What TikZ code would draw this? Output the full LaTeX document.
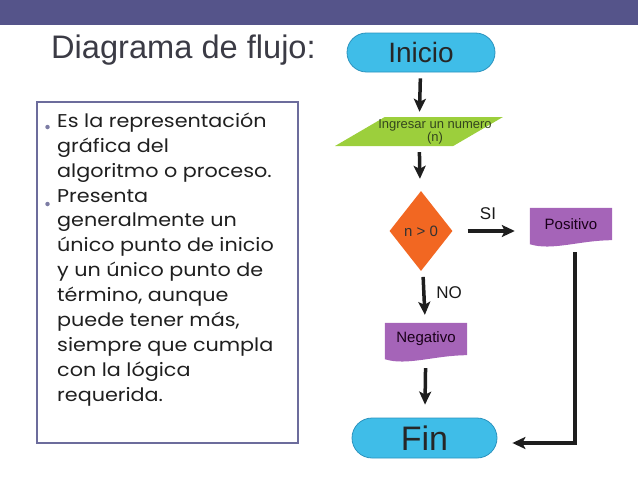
\documentclass[tikz,border=0pt]{standalone}
\usepackage{fontspec}
\setmainfont{Liberation Sans}
\newfontfamily\bodyfont[FakeStretch=1.12]{Poppins}
\usetikzlibrary{shapes.geometric,shapes.misc,arrows.meta,backgrounds}

\definecolor{barblue}{HTML}{55548A}
\definecolor{titlegray}{HTML}{3B3B45}
\definecolor{boxline}{HTML}{6C6C9C}
\definecolor{dotcol}{HTML}{7C7CA4}
\definecolor{termfill}{HTML}{3FBDE8}
\definecolor{termline}{HTML}{2B93BE}
\definecolor{inpfill}{HTML}{9CCF3C}
\definecolor{inptext}{HTML}{34451E}
\definecolor{condfill}{HTML}{F26722}
\definecolor{docfill}{HTML}{A564B8}
\definecolor{arrowcol}{HTML}{1E1E1E}

\tikzset{
  arr/.style={line width=3.5pt, draw=arrowcol, -{Stealth[length=13pt,width=12pt,inset=3pt]}},
  term/.style={rounded rectangle, draw=termline, fill=termfill, line width=0.8pt, text=black!85, inner sep=0pt},
  inpbox/.style={trapezium, trapezium left angle=54, trapezium right angle=126, trapezium stretches=true,
    fill=inpfill, minimum width=168, minimum height=29, inner sep=3pt},
  inptxt/.style={align=center, inner sep=0pt, text=inptext, font=\fontsize{13}{11.5}\selectfont},
  condbox/.style={diamond, fill=condfill, minimum width=63, minimum height=80, inner sep=0pt,
    text=black!80, font=\fontsize{15}{15}\selectfont},
  docbox/.style={rectangle, minimum width=82, minimum height=32, inner sep=0pt},
  doctext/.style={text=black!80!violet, font=\fontsize{15}{15}\selectfont},
  lbl/.style={text=black!90, font=\fontsize{17}{17}\selectfont},
  bodytext/.style={align=left, inner sep=0pt, text=black!88, font=\bodyfont\fontsize{18.5}{24.9}\selectfont},
  dot/.style={circle, fill=dotcol, inner sep=0pt, minimum size=4.5pt}
}

\newcommand\docshape[1]{%
  \fill [docfill] (#1.north west) -- (#1.north east) -- (#1.south east)
    .. controls +(-32,0) and +(22,7) .. ([yshift=-4pt]#1.south west) -- cycle;}

\begin{document}
\begin{tikzpicture}[x=1pt,y=-1pt]
\useasboundingbox (0,0) rectangle (638,479);
\fill [barblue] (0,0) rectangle (638,25);
%
\node (title) [anchor=base west, text=titlegray, font=\fontsize{32.6}{32.6}\selectfont, inner sep=0pt] at (51,58) {Diagrama de flujo:};
%
\node (box) [draw=boxline, line width=1.2pt, minimum width=261, minimum height=341, inner sep=0pt] at (167.5,272.5) {};
\node (b1) [dot] at (47.5,127) {};
\node (b2) [dot] at (47.5,204) {};
\node (item1) [bodytext, anchor=north west] at (57,113) {Es la representación\\gráfica del\\algoritmo o proceso.};
\node (item2) [bodytext, anchor=north west] at (57,189) {Presenta\\generalmente un\\único punto de inicio\\y un único punto de\\término, aunque\\puede tener más,\\siempre que cumpla\\con la lógica\\requerida.};
%
\node (ini) [term, minimum width=148, minimum height=39, font=\fontsize{28}{28}\selectfont] at (421,52.5) {Inicio};
\node (inp) [inpbox] at (419,131.5) {};
\node (cond) [condbox] at (421,231) {n > 0};
\node (pos) [docbox] at (571,224) {};
\node (neg) [docbox] at (426,339) {};
\node (fin) [term, minimum width=145, minimum height=40, font=\fontsize{34}{34}\selectfont] at (424.5,438) {Fin};
%
\begin{scope}[on background layer]
\docshape{pos}
\docshape{neg}
\end{scope}
\node (inptxt) [inptxt] at ([xshift=16pt]inp.center) {Ingresar un numero\\(n)};
\node (postxt) [doctext] at (pos) {Positivo};
\node (negtxt) [doctext] at (neg) {Negativo};
%
\node (si) [lbl] at (488,214) {SI};
\node (no) [lbl] at (449,293) {NO};
%
\draw [arr, shorten <=6pt, shorten >=5pt] (ini) -- (inp);
\draw [arr, shorten <=6pt, shorten >=13pt] (inp) -- (cond);
\draw [arr, shorten <=15pt, shorten >=15pt] (cond.east) -- (cond.east -| pos.west);
\draw [arr, shorten <=8pt, shorten >=8pt] (cond) -- (neg);
\draw [arr, shorten <=13pt, shorten >=13pt] (neg) -- (fin);
\draw [arr, shorten <=12pt, shorten >=15pt] ([xshift=4pt]pos.south) |- ([yshift=-5pt]fin.east);
\end{tikzpicture}
\end{document}
